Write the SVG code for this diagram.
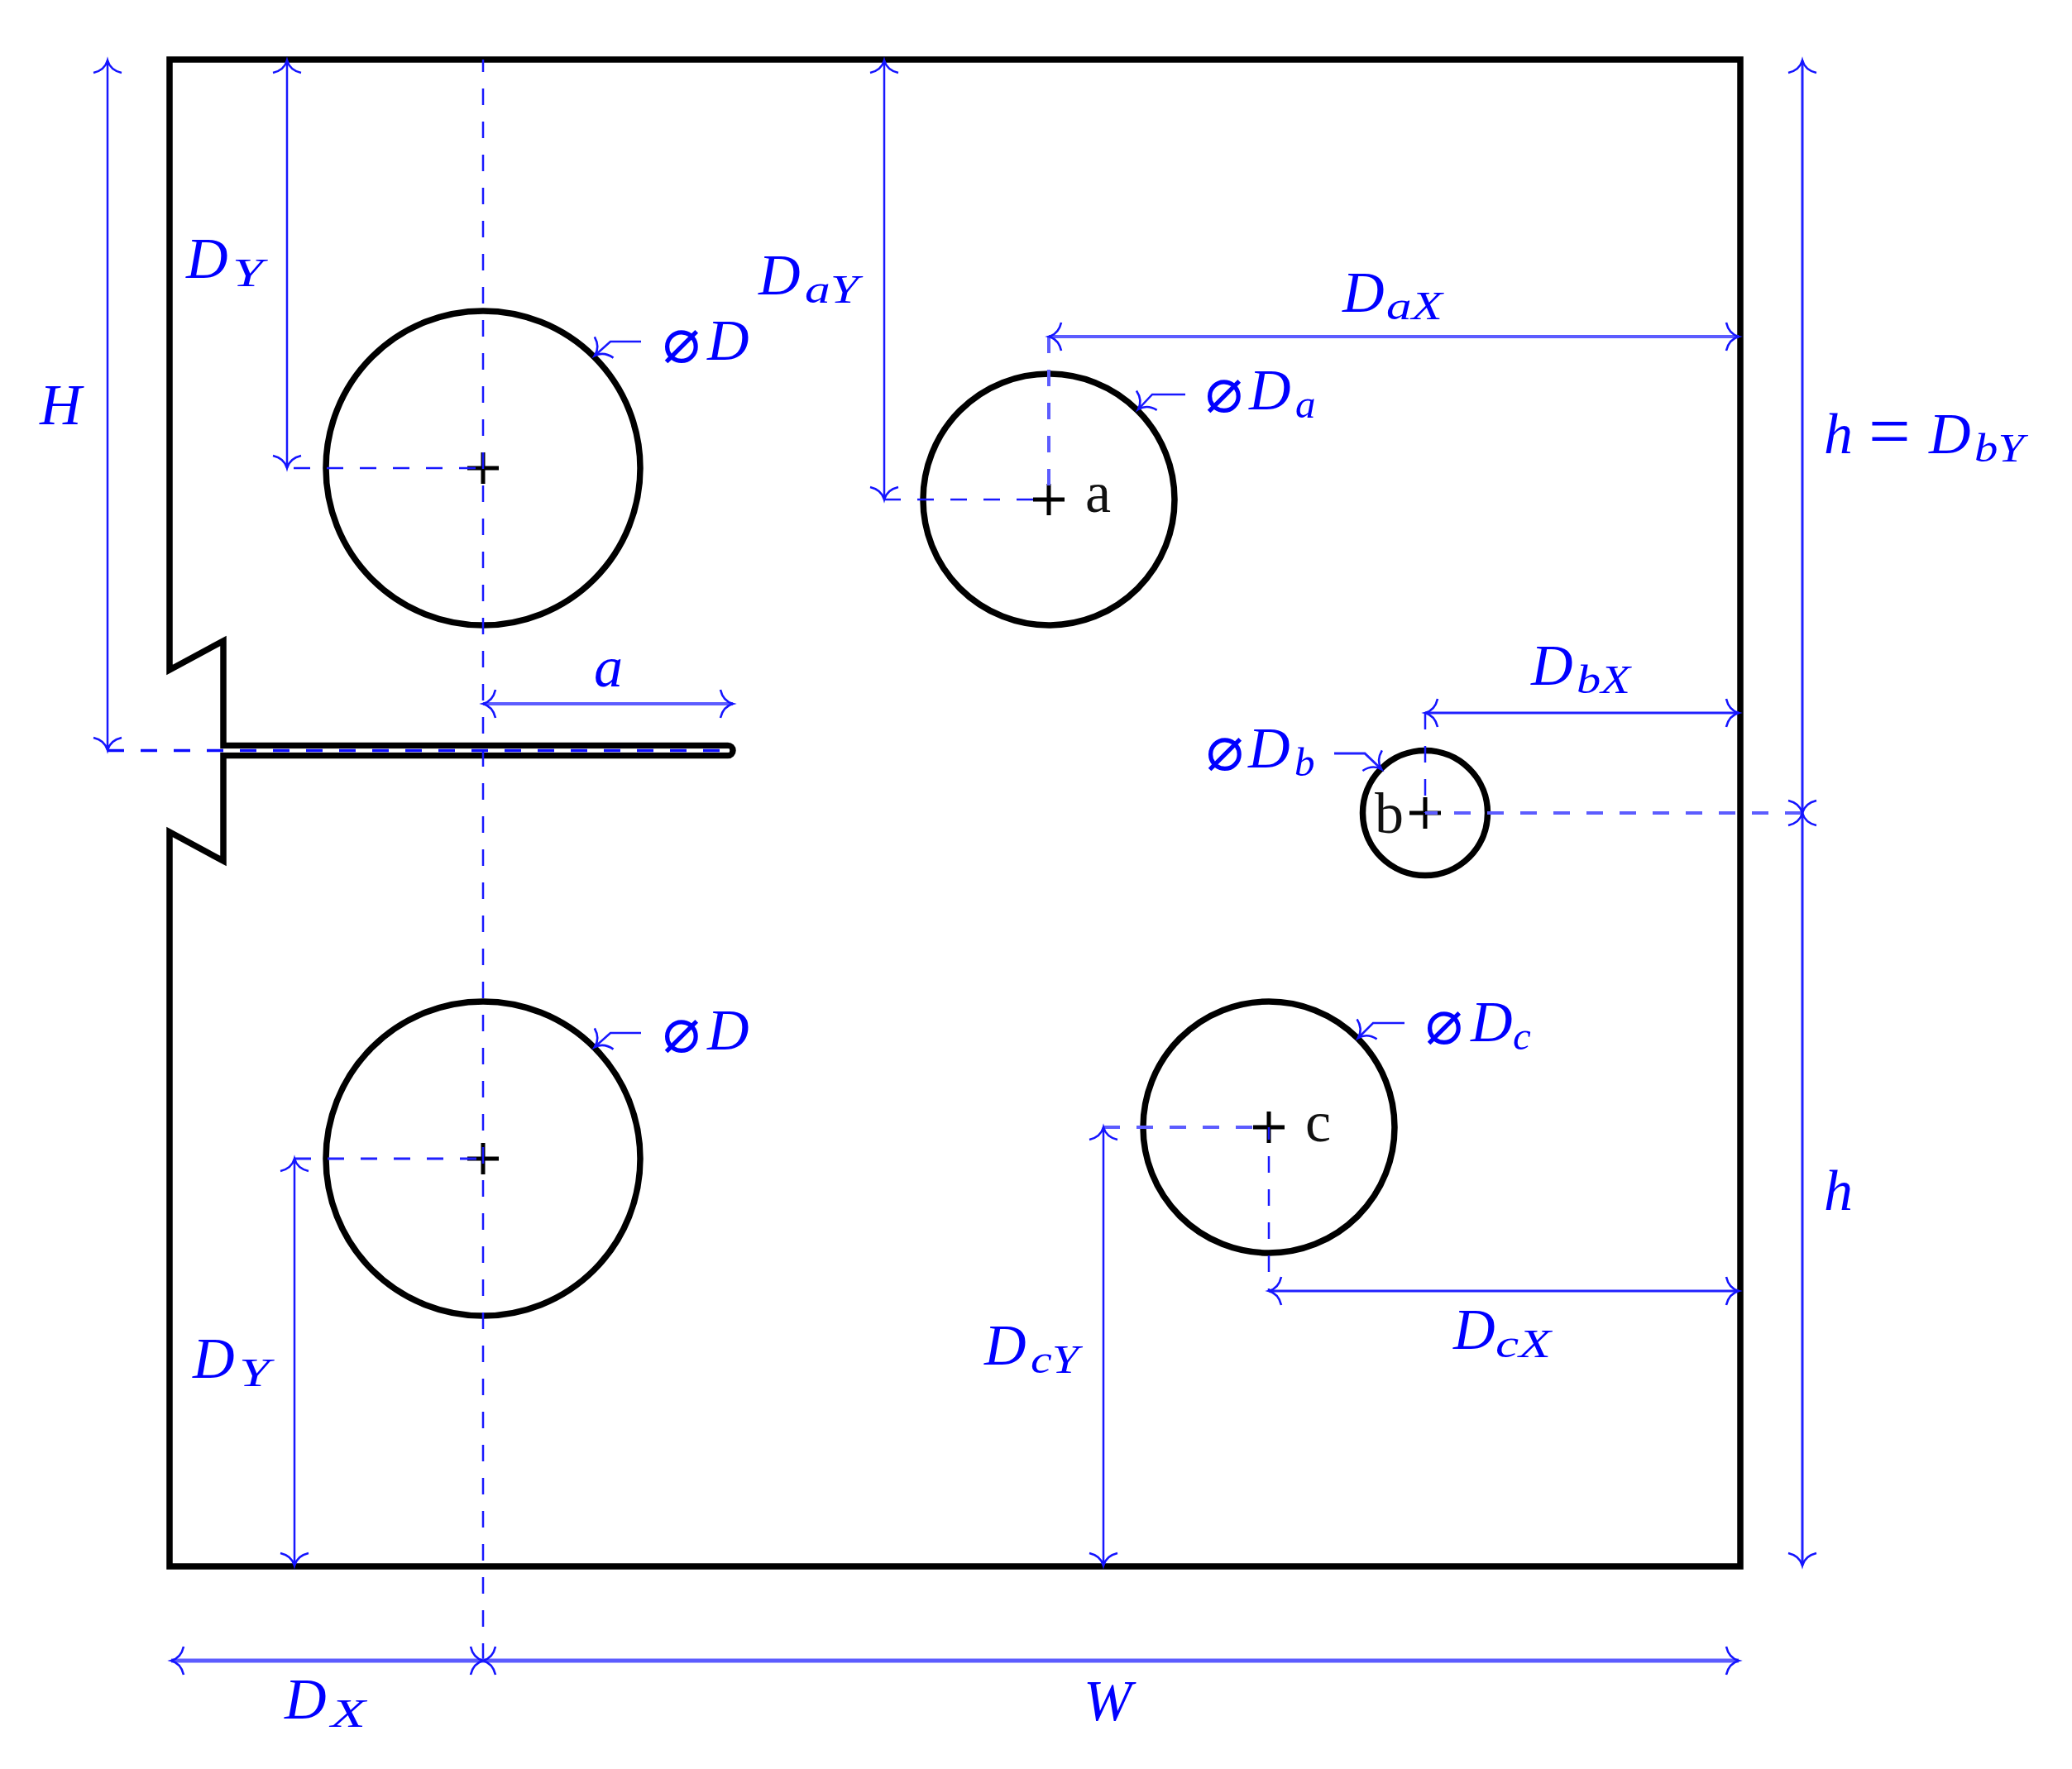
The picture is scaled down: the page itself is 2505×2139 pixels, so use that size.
<svg xmlns="http://www.w3.org/2000/svg" width="2505" height="2139" viewBox="0 0 2505 2139">
<style>
.o{fill:none;stroke:#000;stroke-width:7.5;stroke-linejoin:miter}
.x{fill:none;stroke:#000;stroke-width:5}
.d{fill:none;stroke:#1818ff;stroke-width:2.5}
.dl{fill:none;stroke:#5c5cff;stroke-width:4}
.dm{fill:none;stroke:#2020ff;stroke-width:3}
.dash{stroke-dasharray:20 20}
.arr{marker-start:url(#tip);marker-end:url(#tip)}
.lead{marker-end:url(#tip)}
text{font-family:"Liberation Serif",serif}
.m{font-style:italic;font-size:70px;fill:#0000ff}
.s{font-style:italic;font-size:49px;fill:#0000ff}
.r{font-size:70px;fill:#111}
.dia{font-family:"DejaVu Sans",sans-serif;font-size:76px;fill:#0000ff}
.eq{font-size:90px;fill:#0000ff}
</style>
<defs>
<marker id="tip" markerUnits="userSpaceOnUse" markerWidth="40" markerHeight="40" viewBox="-20 -20 40 40" refX="0" refY="0" orient="auto-start-reverse" overflow="visible">
<path d="M-15,-17 C-13,-8 -7,-2 0,0 C-7,2 -13,8 -15,17" fill="none" stroke="#1414ff" stroke-width="2.6"/>
</marker>
</defs>
<rect width="2505" height="2139" fill="#fff"/>
<g id="plate">
<path class="o" d="M205,72 L2104,72 L2104,1894 L205,1894 L205,1006 L270,1041 L270,913.5 L880,913.5 A6,6 0 0 0 880,901.5 L270,901.5 L270,775 L205,810 Z"/>
<path fill="none" stroke="#fff" stroke-width="4" d="M270,907.5 H882"/>
</g>
<g id="hole-top-left">
<circle class="o" cx="584" cy="566" r="190"/>
<path class="x" d="M565,566 H603 M584,547 V585"/>
</g>
<g id="hole-bottom-left">
<circle class="o" cx="584" cy="1401" r="190"/>
<path class="x" d="M565,1401 H603 M584,1382 V1420"/>
</g>
<g id="hole-a">
<circle class="o" cx="1268" cy="604" r="152"/>
<path class="x" d="M1249,604 H1287 M1268,585 V623"/>
<text class="r" x="1312" y="619">a</text>
</g>
<g id="hole-b">
<circle class="o" cx="1723" cy="983" r="75.5"/>
<path class="x" d="M1704,983 H1742 M1723,964 V1002"/>
<text class="r" x="1662" y="1007">b</text>
</g>
<g id="hole-c">
<circle class="o" cx="1534" cy="1363" r="152"/>
<path class="x" d="M1515,1363 H1553 M1534,1344 V1382"/>
<text class="r" x="1578" y="1380">c</text>
</g>
<g id="connectors">
<path class="d dash" stroke-dashoffset="5" d="M584,72 V2008"/>
<path class="d dash" d="M130,907.5 H880" style="stroke-width:3.5;stroke:#0c0cff"/>
<path class="d arr" d="M130,73 V907"/>
<path class="d arr" d="M347,73 V566"/>
<path class="d dash" d="M355,566 H584"/>
<path class="d arr" d="M1069,73 V604"/>
<path class="d dash" d="M1069,604 H1268"/>
<path class="dl dash" d="M1268,407 V604"/>
<path class="dl arr" d="M1268,407 H2102"/>
<path class="dl arr" d="M584,851 H886"/>
<path class="dm arr" d="M1723,862 H2102"/>
<path class="d dash" d="M1723,862 V983"/>
<path class="dl dash" stroke-dashoffset="5" d="M1723,983 H2179"/>
<path class="dm arr" d="M2179,73 V983"/>
<path class="dm arr" d="M2179,983 V1893"/>
<path class="dl dash" d="M1334,1363 H1534"/>
<path class="d arr" d="M1334,1363 V1893"/>
<path class="d dash" stroke-dashoffset="5" d="M1534,1363 V1561"/>
<path class="dm arr" d="M1534,1561 H2102"/>
<path class="dm dash" d="M356,1401 H584"/>
<path class="d arr" d="M356,1401 V1893"/>
<path class="dl arr" style="stroke-width:5" d="M207,2008 H584"/>
<path class="dl arr" style="stroke-width:5" d="M584,2008 H2102"/>
<polyline class="d lead" points="775,413 738,413 719,430"/>
<polyline class="d lead" points="775,1249 738,1249 719,1266"/>
<polyline class="d lead" points="1433,477 1393,477 1376,495"/>
<polyline class="dm lead" points="1613,911 1650,911 1670,930"/>
<polyline class="d lead" points="1698,1237 1660,1237 1642,1255"/>
</g>
<g id="labels">
<text class="m" x="48" y="513">H</text>
<text class="m" x="225" y="336">D</text><text class="s" x="281" y="346" textLength="37" lengthAdjust="spacingAndGlyphs">Y</text>
<text class="m" x="233" y="1666">D</text><text class="s" x="289" y="1676" textLength="37" lengthAdjust="spacingAndGlyphs">Y</text>
<text class="m" x="917" y="356">D</text><text class="s" x="973" y="366" textLength="65" lengthAdjust="spacingAndGlyphs">aY</text>
<text class="m" x="1623" y="377">D</text><text class="s" x="1676" y="386" textLength="68" lengthAdjust="spacingAndGlyphs">aX</text>
<text class="m" x="1851" y="828">D</text><text class="s" x="1906" y="838" textLength="65" lengthAdjust="spacingAndGlyphs">bX</text>
<text class="m" x="1757" y="1631">D</text><text class="s" x="1808" y="1641" textLength="67" lengthAdjust="spacingAndGlyphs">cX</text>
<text class="m" x="1190" y="1650">D</text><text class="s" x="1246" y="1660" textLength="58" lengthAdjust="spacingAndGlyphs">cY</text>
<text class="m" x="344" y="2078">D</text><text class="s" x="400" y="2088" textLength="42" lengthAdjust="spacingAndGlyphs">X</text>
<text class="m" x="1310" y="2080">W</text>
<text class="m" x="718" y="830">a</text>
<text class="m" x="2205" y="548">h</text>
<text class="eq" x="2259" y="552">=</text>
<text class="m" x="2332" y="548">D</text><text class="s" x="2387" y="558" textLength="60" lengthAdjust="spacingAndGlyphs">bY</text>
<text class="m" x="2205" y="1463">h</text>
<text class="dia" x="801" y="438">⌀</text><text class="m" x="855" y="435">D</text>
<text class="dia" x="801" y="1272">⌀</text><text class="m" x="855" y="1269">D</text>
<text class="dia" x="1457" y="498">⌀</text><text class="m" x="1510" y="495">D</text><text class="s" x="1566" y="505">a</text>
<text class="dia" x="1458" y="931">⌀</text><text class="m" x="1509" y="928">D</text><text class="s" x="1565" y="938">b</text>
<text class="dia" x="1723" y="1262">⌀</text><text class="m" x="1778" y="1259">D</text><text class="s" x="1829" y="1269">c</text>
</g>
</svg>
